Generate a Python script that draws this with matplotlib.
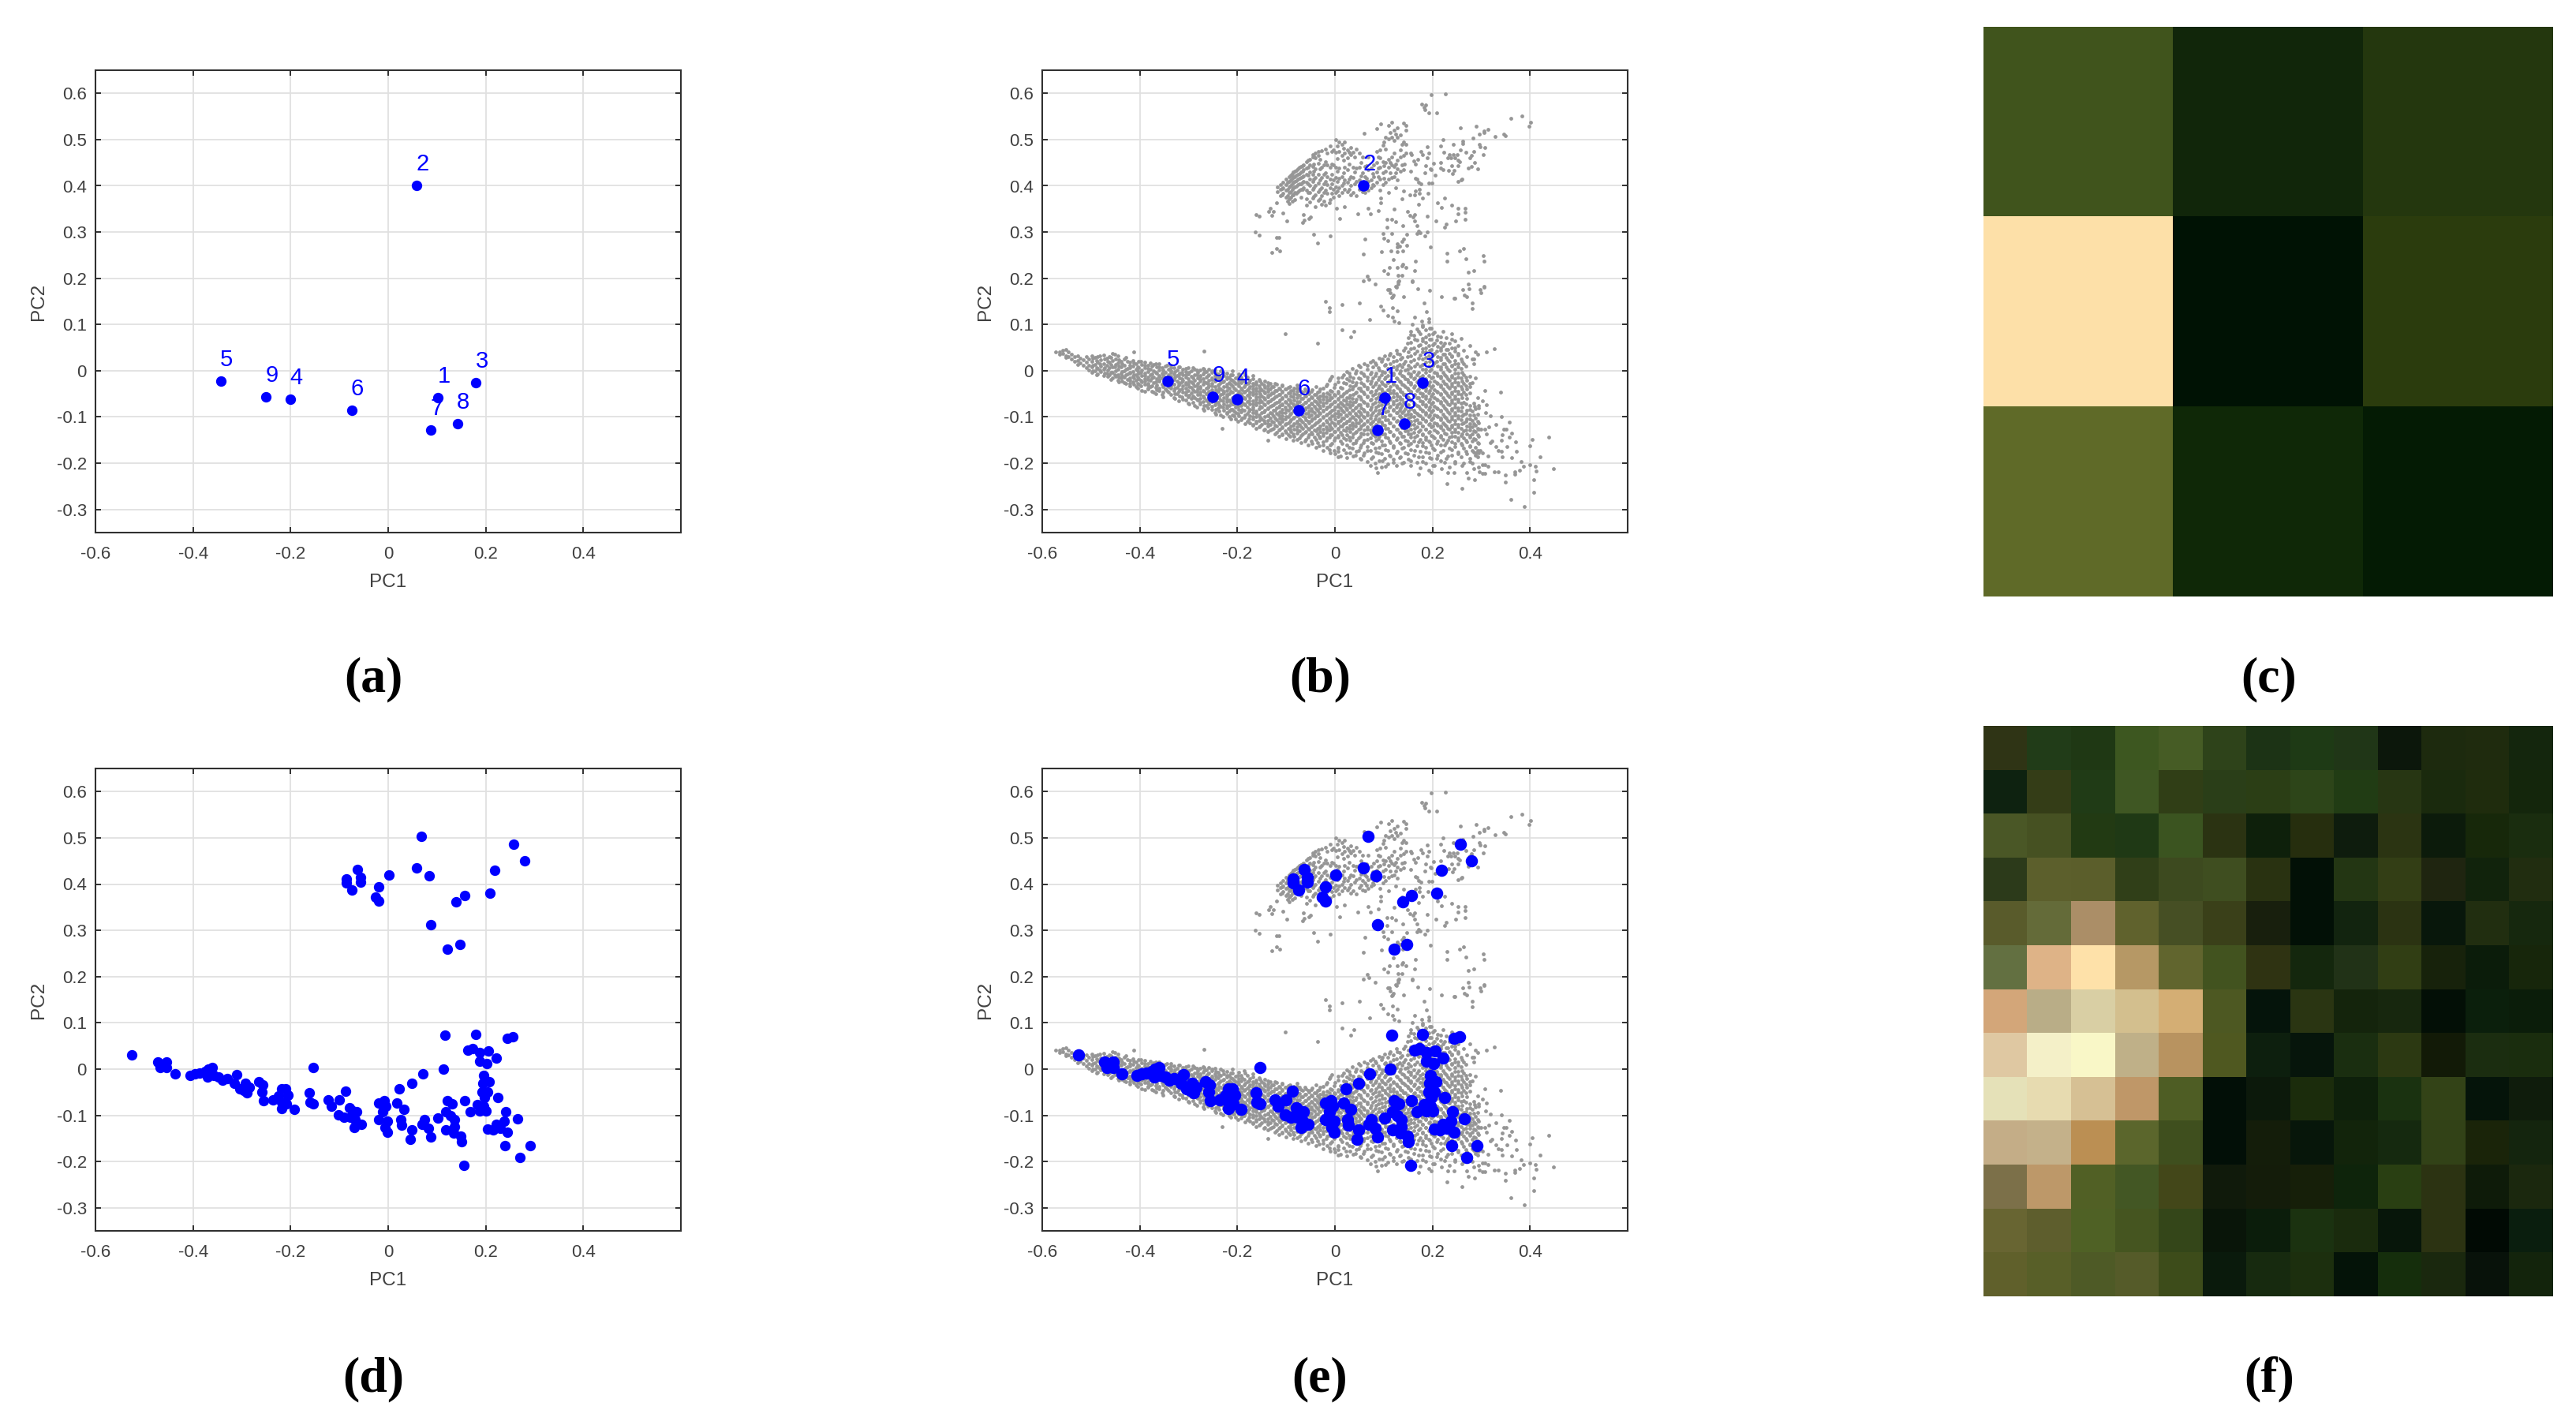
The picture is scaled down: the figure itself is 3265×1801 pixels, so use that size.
import matplotlib
matplotlib.use("Agg")
import matplotlib.pyplot as plt
from matplotlib.colors import to_rgb

W, H = 3266, 1801

# ---- labelled samples, panels (a)/(b)
LABELS = ["1", "2", "3", "4", "5", "6", "7", "8", "9"]
SAMPLE_X = [0.102, 0.058, 0.180, -0.200, -0.343, -0.075, 0.087, 0.142, -0.250]
SAMPLE_Y = [-0.058, 0.401, -0.025, -0.062, -0.022, -0.085, -0.128, -0.114, -0.056]

# ---- selected samples, panels (d)/(e)
SELECT_PTS = [(-0.526,0.031),(-0.473,0.016),(-0.467,0.004),(-0.454,0.016),(-0.454,0.003),(-0.437,-0.011),
(-0.406,-0.013),(-0.396,-0.011),(-0.387,-0.009),(-0.376,-0.006),(-0.369,-0.001),(-0.361,0.004),(-0.370,-0.017),
(-0.357,-0.014),(-0.348,-0.018),(-0.339,-0.024),(-0.330,-0.020),(-0.310,-0.012),(-0.315,-0.031),(-0.304,-0.042),
(-0.293,-0.031),(-0.285,-0.040),(-0.289,-0.052),(-0.296,-0.046),(-0.266,-0.028),(-0.257,-0.034),(-0.259,-0.050),
(-0.256,-0.068),(-0.236,-0.067),(-0.225,-0.059),(-0.219,-0.043),(-0.211,-0.043),(-0.206,-0.056),(-0.219,-0.071),
(-0.209,-0.076),(-0.219,-0.085),(-0.193,-0.087),(-0.154,0.004),(-0.161,-0.052),(-0.160,-0.071),(-0.153,-0.075),
(-0.123,-0.067),(-0.117,-0.080),(-0.100,-0.067),(-0.088,-0.048),(-0.102,-0.099),(-0.091,-0.105),(-0.080,-0.083),
(-0.072,-0.091),(-0.065,-0.093),(-0.077,-0.105),(-0.068,-0.109),(-0.070,-0.126),(-0.055,-0.120),(-0.019,-0.073),
(-0.008,-0.068),(-0.005,-0.081),(-0.012,-0.093),(-0.019,-0.110),(-0.001,-0.113),(-0.007,-0.127),(-0.001,-0.136),
(0.017,-0.073),(0.032,-0.087),(0.026,-0.110),(0.027,-0.122),(0.049,-0.131),(0.046,-0.152),(0.023,-0.042),
(0.049,-0.031),(0.071,-0.010),(0.113,0.000),(0.074,-0.109),(0.069,-0.120),(0.083,-0.128),(0.088,-0.147),
(0.102,-0.106),(0.122,-0.069),(0.131,-0.076),(0.118,-0.093),(0.127,-0.101),(0.136,-0.109),(0.118,-0.132),
(0.136,-0.124),(0.134,-0.139),(0.148,-0.145),(0.150,-0.157),(0.155,-0.208),(0.157,-0.068),(0.169,-0.093),
(0.182,-0.077),(0.187,-0.091),(0.196,-0.081),(0.201,-0.091),(0.198,-0.061),(0.192,-0.050),(0.203,-0.050),
(0.194,-0.031),(0.207,-0.028),(0.196,-0.014),(0.202,0.011),(0.187,0.017),(0.221,0.024),(0.206,0.039),
(0.187,0.035),(0.173,0.045),(0.163,0.041),(0.116,0.074),(0.179,0.075),(0.245,0.066),(0.256,0.070),
(0.225,-0.061),(0.241,-0.093),(0.238,-0.113),(0.266,-0.107),(0.203,-0.130),(0.215,-0.132),(0.222,-0.120),
(0.229,-0.128),(0.244,-0.136),(0.239,-0.165),(0.291,-0.165),(0.270,-0.191),(0.068,0.504),(0.257,0.486),
(0.280,0.450),(0.219,0.430),(0.058,0.435),(0.084,0.418),(0.001,0.420),(-0.063,0.431),(-0.057,0.415),
(-0.056,0.405),(-0.085,0.411),(-0.086,0.402),(-0.074,0.387),(-0.020,0.394),(-0.026,0.372),(-0.020,0.363),
(0.209,0.380),(0.157,0.375),(0.139,0.362),(0.088,0.312),(0.147,0.270),(0.122,0.259)]

# ---- background cloud, panels (b)/(e): isolated points (PC1, PC2)
CLOUD_SPARSE = [(-0.164,0.301),(-0.155,0.293),(-0.162,0.337),(-0.156,0.334),(-0.136,0.344),(-0.132,0.351),(-0.126,0.344),
(-0.129,0.336),(-0.107,0.341),(-0.119,0.364),(-0.098,0.324),(-0.120,0.289),(-0.115,0.289),(-0.130,0.256),(-0.119,0.265),
(-0.113,0.260),(-0.067,0.321),(-0.063,0.326),(-0.054,0.330),(-0.050,0.332),(-0.065,0.337),(-0.044,0.295),(-0.036,0.276),
(-0.009,0.292),(0.010,0.330),(0.003,0.352),(0.020,0.355),(-0.012,0.364),(-0.020,0.358),(0.047,0.339),(0.068,0.351),
(0.073,0.340),(0.061,0.284),(0.058,0.253),(0.059,0.194),(0.066,0.204),(0.070,0.197),(0.082,0.187),(0.060,0.514),
(0.085,0.523),(0.093,0.534),(0.198,0.597),(0.227,0.599),(0.178,0.577),(0.186,0.575),(0.183,0.570),(0.184,0.564),
(0.193,0.558),(0.209,0.558),(0.360,0.546),(0.384,0.551),(0.401,0.537),(0.398,0.528),(0.257,0.526),(0.290,0.528),
(0.314,0.522),(0.306,0.519),(0.306,0.515),(0.296,0.511),(0.283,0.504),(0.329,0.506),(0.346,0.511),(0.350,0.509),
(0.222,0.499),(0.262,0.497),(0.262,0.491),(0.217,0.486),(0.242,0.489),(0.296,0.490),(0.298,0.484),(0.307,0.483),
(0.257,0.478),(0.269,0.473),(0.284,0.474),(0.304,0.468),(0.223,0.473),(0.234,0.467),(0.243,0.468),(0.251,0.467),
(0.231,0.461),(0.238,0.461),(0.246,0.460),(0.252,0.455),(0.256,0.452),(0.279,0.466),(0.276,0.460),(0.286,0.450),
(0.274,0.439),(0.280,0.442),(0.292,0.436),(0.217,0.450),(0.217,0.439),(0.221,0.435),(0.233,0.433),(0.240,0.443),
(0.241,0.426),(0.245,0.434),(0.252,0.443),(0.252,0.409),(0.259,0.412),(0.260,0.415),(0.189,0.484),(0.176,0.475),
(0.180,0.468),(0.192,0.471),(0.189,0.460),(0.155,0.470),(0.157,0.467),(0.170,0.458),(0.161,0.453),(0.165,0.447),
(0.186,0.443),(0.202,0.448),(0.195,0.437),(0.198,0.435),(0.184,0.428),(0.205,0.423),(0.155,0.432),(0.142,0.447),
(0.141,0.435),(0.165,0.416),(0.169,0.414),(0.171,0.407),(0.176,0.404),(0.192,0.406),(0.199,0.406),(0.125,0.395),
(0.140,0.389),(0.165,0.389),(0.173,0.393),(0.154,0.381),(0.163,0.380),(0.173,0.384),(0.191,0.384),(0.180,0.374),
(0.138,0.372),(0.094,0.373),(0.094,0.363),(0.171,0.360),(0.122,0.350),(0.089,0.347),(0.210,0.364),(0.225,0.374),
(0.219,0.353),(0.239,0.358),(0.252,0.352),(0.267,0.351),(0.253,0.340),(0.267,0.342),(0.267,0.327),(0.248,0.324),
(0.207,0.324),(0.190,0.334),(0.149,0.344),(0.153,0.336),(0.163,0.338),(0.160,0.333),(0.163,0.324),(0.107,0.328),
(0.117,0.328),(0.125,0.322),(0.168,0.313),(0.107,0.310),(0.139,0.313),(0.228,0.317),(0.224,0.310),(0.172,0.302),
(0.175,0.299),(0.169,0.297),(0.184,0.291),(0.190,0.300),(0.099,0.296),(0.117,0.297),(0.147,0.295),(0.100,0.286),
(0.109,0.281),(0.140,0.285),(0.137,0.279),(0.127,0.274),(0.133,0.270),(0.127,0.267),(0.147,0.272),(0.195,0.267),
(0.096,0.258),(0.115,0.260),(0.127,0.258),(0.139,0.260),(0.229,0.254),(0.229,0.237),(0.255,0.260),(0.264,0.264),
(0.269,0.243),(0.304,0.249),(0.306,0.237),(0.273,0.213),(0.285,0.216),(0.119,0.240),(0.165,0.237),(0.101,0.217),
(0.112,0.223),(0.109,0.210),(0.127,0.223),(0.139,0.230),(0.138,0.226),(0.146,0.223),(0.164,0.217),(0.129,0.207),
(0.137,0.207),(0.129,0.193),(0.130,0.188),(0.158,0.192),(0.112,0.175),(0.126,0.180),(0.170,0.177),(0.194,0.174),
(0.119,0.164),(0.116,0.159),(0.141,0.160),(0.275,0.178),(0.306,0.180),(0.299,0.169),(0.270,0.160),(0.218,0.160),
(0.246,0.156),(-0.020,0.150),(-0.012,0.136),(-0.012,0.128),(0.014,0.143),(0.050,0.147),(0.014,0.089),(0.039,0.085),
(0.032,0.073),(-0.102,0.080),(-0.035,0.060),(0.094,0.139),(0.099,0.132),(0.118,0.137),(0.127,0.129),(0.108,0.120),
(0.118,0.116),(0.122,0.108),(0.131,0.104),(0.164,0.116),(0.182,0.146),(0.187,0.128),(0.159,0.101),(0.178,0.108),
(0.192,0.112),(0.244,0.157),(0.265,0.164),(0.281,0.146),(0.281,0.135),(0.273,0.187),(0.262,0.175),(0.298,0.175),
(0.305,0.183),(0.118,0.160),(0.113,0.168),(0.124,0.183),(0.108,0.176),(0.159,0.195),(0.131,0.195),(0.071,0.111),
(0.448,-0.211),(0.438,-0.144),(0.405,-0.148),(0.400,-0.163),(0.421,-0.186),(0.381,-0.196),(0.386,-0.207),(0.399,-0.204),
(0.410,-0.207),(0.412,-0.217),(0.407,-0.235),(0.408,-0.263),(0.388,-0.293),(0.360,-0.279),(0.350,-0.241),(0.350,-0.225),
(0.368,-0.218),(0.368,-0.224),(0.378,-0.215),(0.335,-0.218),(0.327,-0.218),(0.362,-0.188),(0.343,-0.187),(0.372,-0.174),
(0.370,-0.154),(0.353,-0.164),(0.342,-0.150),(0.343,-0.139),(0.362,-0.135),(0.358,-0.144),(0.346,-0.126),(0.351,-0.126),
(0.357,-0.111),(0.341,-0.099),(0.330,-0.117),(0.339,-0.047),(0.307,-0.043),(0.303,-0.065),(0.311,-0.074),(0.295,-0.075),
(0.287,-0.077),(0.309,-0.090),(0.319,-0.098),(0.300,-0.127),(0.308,-0.127),(0.316,-0.121),(0.311,-0.136),(0.319,-0.155),
(0.322,-0.152),(0.330,-0.164),(0.335,-0.172),(0.341,-0.175),(0.314,-0.184),(0.292,-0.172),(0.297,-0.172),(0.303,-0.178),
(0.289,-0.178),(0.303,-0.204),(0.308,-0.204),(0.314,-0.207),(0.296,-0.218),(0.303,-0.222),(0.307,-0.222),(0.273,-0.233),
(0.287,-0.236),(0.261,-0.254),(0.229,-0.244),(0.245,-0.221),(0.232,-0.221),(0.218,-0.212),(0.197,-0.221),(0.171,-0.224),
(0.087,-0.221),(0.326,0.047),(0.311,0.040),(0.292,0.036),(0.284,0.025),(-0.231,-0.124),(-0.268,0.042),(-0.413,0.040)]

# ---- background cloud: crowded parts read column by column (PC1 in thousandths: PC2 values in thousandths)
CLOUD_COLUMNS = [
(-572,[40]),(-565,[41,35]),(-558,[44,37]),(-552,[46,33,28]),(-546,[40,31]),(-540,[36,26]),(-534,[30,21]),
(-528,[32,22,14]),(-522,[27,17]),(-516,[12,24]),(-510,[30,19,6]),(-504,[25,12,2]),(-498,[33,20,8,-4]),(-492,[28,14,0]),
(-486,[31,18,5,-7]),(-480,[24,10,-2]),(-474,[34,16,3,-10]),(-468,[27,12,-5]),(-462,[30,19,6,-8]),(-456,[38,22,9,-3,-15]),
(-450,[26,13,-1,-12]),(-444,[32,17,4,-9,-20]),(-438,[21,8,-6,-16]),(-432,[26,12,0,-13,-25]),(-426,[20,5,-7,-19]),
(-420,[18,7,-4,-16,-28]),(-414,[22,10,-2,-12,-24]),(-408,[15,3,-9,-21,-34]),(-402,[20,6,-5,-17,-30]),
(-396,[14,1,-11,-24,-42]),(-390,[19,7,-6,-18,-29]),(-384,[12,-2,-14,-27,-37]),(-378,[17,4,-9,-21,-35]),
(-372,[13,-1,-13,-26,-46]),(-366,[8,-6,-18,-31,-41]),(-360,[15,2,-10,-23,-37]),(-354,[6,-5,-16,-29,-52]),
(-348,[10,-3,-14,-26,-40]),(-342,[4,-9,-21,-34,-47]),(-336,[12,-1,-12,-25,-38]),(-330,[6,-7,-19,-30,-43,-58]),
(-324,[1,-11,-23,-36,-49]),(-318,[8,-5,-16,-28,-41,-54]),(-312,[3,-9,-21,-33,-46,-62]),(-306,[-2,-13,-26,-38,-51]),
(-300,[6,-7,-18,-30,-43,-56,-70]),(-294,[-1,-12,-24,-36,-48,-60]),(-288,[3,-9,-20,-33,-45,-58,-76]),
(-282,[-4,-15,-27,-39,-51,-64]),(-276,[1,-11,-23,-35,-47,-60,-72]),(-270,[5,-7,-18,-30,-42,-55,-67,-82]),
(-264,[-2,-14,-26,-38,-50,-63,-76]),(-258,[4,-9,-21,-33,-45,-58,-71]),(-252,[-3,-16,-28,-41,-53,-66,-84]),
(-246,[2,-11,-23,-35,-48,-60,-74,-90]),(-240,[-7,-19,-31,-44,-56,-69,-81]),(-234,[-1,-14,-26,-39,-51,-64,-77,-96]),
(-228,[-10,-22,-34,-47,-59,-72,-85]),(-222,[-5,-18,-30,-42,-55,-67,-80,-93]),(-216,[-13,-25,-38,-50,-63,-75,-88,-100]),
(-210,[0,-9,-21,-33,-46,-58,-71,-84,-96]),(-204,[-16,-28,-41,-53,-66,-79,-91,-104]),(-198,[-7,-20,-32,-45,-57,-70,-83,-98]),
(-192,[-13,-26,-38,-50,-63,-76,-89,-106]),(-186,[-4,-22,-34,-47,-59,-72,-85,-101]),(-180,[-14,-28,-41,-53,-66,-79,-92,-110]),
(-174,[-20,-34,-46,-59,-71,-84,-97,-112]),(-168,[-11,-27,-40,-52,-65,-78,-91,-104,-118]),(-162,[-24,-37,-49,-62,-74,-87,-100,-113]),
(-156,[-19,-32,-44,-57,-69,-82,-95,-108,-122]),(-150,[-28,-41,-54,-66,-79,-91,-104,-117]),
(-144,[-23,-36,-48,-61,-73,-86,-99,-112,-126]),(-138,[-32,-44,-57,-69,-82,-95,-108,-120,-150]),
(-132,[-27,-40,-52,-65,-77,-90,-103,-116,-129]),(-126,[-35,-48,-60,-73,-85,-98,-111,-124]),
(-120,[-29,-43,-55,-68,-80,-93,-106,-119,-133]),(-114,[-39,-51,-64,-76,-89,-102,-115,-127]),
(-108,[-33,-46,-58,-71,-84,-97,-110,-123,-137]),(-102,[-40,-53,-66,-78,-91,-104,-117,-130]),
(-96,[-36,-48,-61,-73,-86,-99,-112,-125,-139]),(-90,[-43,-55,-68,-81,-93,-106,-119,-132]),
(-84,[-38,-50,-63,-76,-88,-101,-114,-127,-141]),(-78,[-31,-45,-58,-71,-83,-96,-109,-122,-135]),
(-72,[-40,-53,-66,-78,-91,-104,-117,-130,-145]),(-66,[-47,-60,-73,-85,-98,-111,-124,-137]),
(-60,[-42,-55,-68,-81,-93,-106,-119,-132,-148]),(-54,[-49,-62,-75,-88,-100,-113,-126,-139]),
(-48,[-44,-57,-70,-82,-95,-108,-121,-134,-152]),(-42,[-52,-65,-77,-90,-103,-116,-129,-143]),
(-36,[-47,-59,-72,-85,-98,-111,-124,-137,-155]),(-30,[-40,-54,-67,-80,-93,-106,-119,-132,-146]),
(-24,[-49,-62,-75,-88,-101,-114,-127,-140,-160]),(-18,[-32,-56,-69,-82,-95,-108,-121,-134,-150]),
(-12,[-21,-51,-64,-77,-90,-103,-116,-129,-143,-170]),(-6,[-12,-45,-59,-72,-85,-98,-111,-124,-138,-158]),
(0,[-30,-53,-66,-79,-92,-105,-118,-131,-146,-180]),(6,[-16,-48,-61,-74,-87,-100,-113,-126,-140,-165,-175]),
(12,[-36,-55,-68,-81,-94,-107,-120,-133,-152,-185]),(18,[-8,-25,-50,-63,-76,-89,-102,-115,-128,-145,-170]),
(24,[-2,-18,-44,-58,-71,-84,-97,-110,-123,-138,-160,-188]),(30,[-12,-33,-53,-66,-79,-92,-105,-118,-131,-150,-178]),
(36,[5,-24,-40,-60,-73,-86,-99,-112,-125,-143,-168]),(42,[-6,-31,-48,-67,-80,-93,-106,-119,-133,-155,-182]),
(48,[12,-15,-37,-55,-74,-87,-100,-113,-126,-146,-172]),(54,[-3,-26,-43,-62,-81,-94,-107,-120,-135,-160,-192]),
(60,[15,-10,-33,-50,-69,-88,-101,-114,-128,-150,-178]),(66,[4,-21,-39,-57,-76,-95,-108,-121,-136,-164,-196]),
(72,[18,-7,-28,-46,-64,-83,-102,-115,-129,-145,-172,-205]),(78,[22,8,-16,-35,-53,-71,-90,-109,-122,-138,-158,-186]),
(84,[14,-5,-25,-42,-60,-78,-97,-116,-131,-150,-176,-210]),(90,[27,2,-14,-32,-49,-67,-85,-104,-123,-142,-165,-195]),
(96,[20,-8,-24,-39,-56,-74,-92,-111,-130,-152,-180,-208]),(102,[32,12,-4,-18,-31,-46,-63,-81,-99,-118,-137,-160,-190]),
(108,[25,5,-11,-26,-41,-54,-70,-88,-106,-125,-146,-172,-202]),(114,[38,16,-2,-20,-35,-48,-62,-77,-95,-113,-132,-155,-185]),
(120,[30,9,-9,-27,-43,-57,-71,-84,-102,-120,-140,-165,-198]),(126,[44,22,3,-15,-33,-50,-64,-78,-91,-109,-127,-148,-178,-205]),
(132,[35,14,-5,-22,-40,-56,-70,-85,-98,-116,-134,-156,-188]),(138,[28,8,-11,-29,-46,-62,-76,-90,-105,-123,-142,-168,-200]),
(144,[50,20,1,-17,-35,-52,-68,-82,-96,-112,-130,-150,-178]),(150,[72,40,12,-6,-24,-41,-58,-74,-88,-103,-119,-137,-160,-192]),
(156,[85,62,32,6,-12,-30,-47,-64,-80,-94,-109,-126,-144,-170,-205]),(162,[76,50,24,-2,-18,-36,-53,-70,-86,-100,-116,-133,-152,-182]),
(168,[90,66,42,16,-8,-24,-42,-59,-76,-92,-106,-122,-140,-162,-198]),(174,[80,56,34,10,-14,-30,-48,-65,-82,-98,-112,-129,-148,-175,-210]),
(180,[95,70,48,26,3,-20,-36,-54,-71,-88,-104,-120,-136,-156,-186]),(186,[88,62,40,18,-4,-26,-42,-60,-77,-94,-110,-127,-144,-166,-200]),
(192,[105,78,54,32,10,-10,-31,-48,-66,-83,-100,-116,-134,-152,-178,-215]),(198,[92,68,46,24,4,-16,-36,-54,-72,-89,-106,-122,-140,-160,-190]),
(204,[84,60,38,17,-4,-22,-41,-59,-77,-95,-112,-128,-146,-170,-205]),(210,[75,52,30,10,-10,-28,-46,-64,-82,-100,-118,-134,-152,-182]),
(216,[62,44,23,3,-16,-34,-52,-70,-88,-106,-123,-140,-160,-195]),(222,[85,54,36,16,-4,-22,-40,-58,-76,-94,-112,-128,-148,-172]),
(228,[72,46,28,8,-12,-30,-48,-66,-84,-102,-120,-136,-156,-190]),(234,[60,38,20,0,-20,-38,-56,-74,-92,-110,-126,-144,-168,-208]),
(240,[80,50,30,12,-10,-28,-46,-64,-82,-100,-118,-134,-154,-182]),(246,[65,42,22,4,-18,-36,-54,-72,-90,-108,-126,-142,-164,-196]),
(252,[55,34,15,-6,-26,-44,-62,-80,-98,-116,-134,-150,-176]),(258,[70,25,5,-16,-34,-52,-70,-88,-106,-124,-140,-158,-186]),
(264,[45,16,-8,-28,-46,-68,-94,-112,-130,-146,-168,-200]),(270,[30,-20,-40,-60,-85,-104,-120,-136,-154,-180,-220]),
(276,[55,-12,-34,-75,-96,-114,-128,-144,-162,-190]),(282,[25,-25,-88,-108,-122,-136,-152,-172,-200]),
(288,[40,-15,-82,-102,-118,-132,-148,-165,-182]),(294,[-80,-112,-126,-142,-158,-178,-208]),
# upper lobe
(-118,[398,388]),(-112,[403,392,378]),(-106,[408,396,384]),(-100,[414,402,390,376]),(-94,[420,410,398,386,372,362]),
(-88,[427,416,405,393,380,366]),(-82,[432,420,410,398,385,370]),(-76,[437,425,414,402,388]),(-70,[441,430,418,405,392,376]),
(-64,[446,435,422,410,396]),(-58,[452,438,425,408,390,372,358]),(-52,[458,445,430,415,400,385,365]),(-46,[467,462,442,425,410,392,374]),
(-40,[470,460,436,418,400,380,355]),(-34,[474,465,448,425,406,388,368]),(-28,[476,440,418,396,378,360]),(-22,[445,424,404,386,366]),
(-16,[470,446,420,402,384]),(-10,[486,440,415,395,370]),(-4,[478,445,412,392,375]),(2,[500,472,440,418,398,385]),
(8,[494,475,438,416,396,378]),(14,[490,465,420,400,385]),(20,[494,470,440,412,392]),(26,[478,460,435,408,388]),(32,[482,468,420,400,380]),
(38,[472,440,418,385]),(44,[480,438,410,378]),(50,[470,440,412,392]),(56,[462,428,408,388]),(62,[442,420,402,385]),(68,[462,435,410,390]),
(74,[438,412,395]),(80,[445,420,400]),(86,[474,450,430,408]),(92,[478,460,440,415,390]),(98,[488,452,428,402]),(104,[505,480,450,432,408]),
(110,[530,502,458,440,415,385]),(116,[537,505,462,445,418]),(122,[520,498,470,442,420]),(128,[525,505,456,436,412]),(134,[510,478,462,432]),
(140,[535,495,465]),(146,[530,520,490,470]),
]

# ---- second reading of the crowded parts, between the first columns
CLOUD_COLUMNS_B = [
(-497,[27,11,-1]),(-489,[22,6,-9]),(-482,[33,15,1]),(-473,[25,7,-6]),(-466,[20,2,-12]),(-459,[29,13,-4,-19]),(-451,[35,8,-8]),
(-443,[24,10,-14,-24]),(-436,[16,-2,-11,-23]),(-428,[28,3,-9,-27]),(-421,[11,-6,-21,-33]),(-413,[17,-8,-15,-29]),(-405,[8,0,-13,-27,-38]),
(-398,[21,-4,-20,-33]),(-390,[12,-10,-23,-44]),(-383,[5,-19,-31,-40]),(-375,[10,-7,-16,-32,-45]),(-367,[16,-3,-24,-36,-50]),(-360,[8,-12,-19,-43]),
(-352,[1,-9,-34,-46,-56]),(-344,[12,-17,-29,-42]),(-337,[6,-4,-22,-33,-52]),(-329,[-2,-14,-37,-49,-60]),(-321,[9,-8,-26,-31,-45,-65]),
(-314,[-3,-18,-24,-39,-57]),(-306,[5,-9,-30,-47,-63]),(-299,[-4,-22,-35,-53,-72]),(-291,[7,-15,-28,-41,-55,-68]),(-283,[1,-8,-33,-44,-62,-79]),
(-276,[-12,-19,-38,-52,-69]),(-268,[3,-4,-24,-45,-58,-75,-86]),(-260,[-10,-28,-36,-50,-66,-80]),(-253,[0,-19,-33,-47,-61,-77]),
(-245,[-6,-15,-41,-52,-68,-84,-94]),(-237,[-12,-29,-37,-58,-73,-88]),(-229,[-3,-24,-43,-49,-65,-79,-99]),(-222,[-14,-35,-52,-61,-76,-90]),
(-214,[-8,-19,-30,-45,-68,-83,-104]),(-207,[-24,-37,-57,-72,-87,-98]),(-199,[-13,-28,-49,-63,-77,-93,-110]),(-191,[-19,-41,-55,-69,-84,-102]),
(-184,[-9,-31,-44,-60,-74,-96,-114]),(-176,[-25,-38,-52,-65,-88,-105]),(-168,[-17,-33,-47,-71,-83,-99,-116]),(-161,[-29,-42,-56,-68,-92,-109,-124]),
(-153,[-22,-37,-50,-63,-77,-101,-119]),(-146,[-31,-45,-59,-72,-89,-107,-128]),(-138,[-26,-39,-53,-67,-81,-98,-114,-131]),(-130,[-34,-48,-62,-75,-93,-109,-126]),
(-123,[-28,-42,-57,-70,-86,-102,-118,-136]),(-115,[-37,-51,-66,-79,-95,-111,-129,-142]),(-108,[-31,-44,-60,-73,-90,-105,-121,-139]),
(-100,[-39,-54,-69,-83,-100,-114,-133,-147]),(-92,[-34,-48,-63,-78,-94,-109,-127,-142]),(-85,[-42,-57,-71,-87,-103,-118,-136,-150]),
(-77,[-37,-52,-66,-81,-97,-113,-129,-148]),(-70,[-45,-60,-75,-90,-107,-122,-140,-156]),(-62,[-39,-54,-69,-84,-101,-116,-133,-152]),
(-55,[-47,-63,-78,-93,-109,-125,-144,-160]),(-47,[-41,-58,-72,-87,-104,-119,-137,-157]),(-39,[-35,-52,-67,-82,-97,-113,-130,-148,-166]),
(-32,[-45,-61,-76,-91,-108,-124,-141,-162]),(-24,[-38,-55,-70,-85,-100,-117,-135,-153,-173]),(-16,[-29,-48,-64,-79,-94,-111,-127,-146,-165]),
(-9,[-18,-42,-58,-73,-89,-104,-121,-139,-160,-178]),(-1,[-36,-51,-67,-83,-98,-115,-132,-151,-172]),(7,[-24,-45,-60,-77,-92,-109,-125,-143,-168,-186]),
(14,[-13,-38,-54,-71,-86,-103,-119,-138,-157]),(22,[-28,-47,-65,-80,-96,-112,-130,-149,-178]),(29,[-5,-21,-41,-59,-74,-90,-107,-124,-144,-166]),
(37,[-15,-34,-52,-68,-85,-101,-118,-137,-158,-184]),(44,[0,-26,-46,-62,-79,-95,-112,-131,-150,-175]),(52,[8,-18,-38,-56,-73,-90,-106,-124,-141,-166,-190]),
(59,[-7,-29,-47,-66,-84,-99,-117,-136,-156,-182]),(67,[11,-14,-36,-54,-72,-91,-109,-127,-148,-172]),(74,[-3,-23,-44,-61,-79,-96,-113,-133,-155,-190]),
(82,[17,-11,-30,-50,-68,-86,-104,-121,-142,-168,-200]),(89,[6,-19,-37,-57,-75,-93,-110,-128,-147,-178]),(97,[25,-2,-27,-45,-64,-82,-99,-117,-136,-160,-195]),
(104,[14,-13,-33,-52,-71,-89,-106,-124,-143,-170,-206]),(112,[34,4,-22,-41,-59,-78,-96,-113,-131,-152,-182]),(119,[21,-6,-29,-48,-66,-85,-103,-120,-139,-162,-192]),
(127,[38,10,-17,-36,-55,-73,-91,-108,-126,-146,-174]),(134,[26,-1,-24,-44,-62,-81,-99,-116,-135,-158,-186]),(141,[45,15,-12,-31,-51,-69,-88,-105,-123,-142,-166,-198]),
(149,[60,31,3,-19,-38,-57,-76,-94,-111,-130,-152,-180]),(156,[78,48,20,-7,-26,-45,-63,-82,-99,-117,-137,-158,-194]),(164,[68,38,10,-15,-33,-52,-71,-89,-107,-124,-144,-172]),
(171,[86,54,27,-3,-21,-40,-58,-77,-95,-113,-131,-154,-186]),(179,[98,64,40,14,-11,-30,-49,-67,-85,-103,-120,-138,-162,-196]),(186,[74,50,28,3,-18,-37,-55,-73,-91,-108,-126,-148,-176]),
(194,[92,68,44,21,-1,-24,-43,-61,-79,-96,-114,-131,-154,-188]),(201,[80,56,34,11,-13,-32,-50,-68,-86,-103,-120,-142,-168,-205]),(209,[66,42,20,-6,-25,-44,-62,-80,-98,-115,-132,-158,-190]),
(216,[74,50,28,9,-12,-31,-49,-67,-85,-102,-120,-144,-176]),(224,[60,36,15,-8,-27,-45,-63,-81,-99,-117,-135,-160,-198]),(231,[46,24,3,-17,-35,-53,-71,-89,-107,-125,-150,-184]),
(239,[68,32,10,-14,-32,-50,-68,-86,-104,-122,-142,-170]),(246,[50,16,-5,-24,-42,-60,-78,-96,-114,-132,-158,-200]),(253,[38,8,-14,-31,-49,-67,-85,-103,-121,-146,-180]),
(261,[20,-3,-22,-40,-58,-78,-97,-115,-136,-160,-205]),(268,[10,-13,-32,-52,-72,-92,-110,-128,-150,-175]),(276,[-28,-48,-84,-104,-122,-140,-164,-196]),
(284,[15,-70,-96,-114,-130,-147,-176,-212]),(293,[-58,-94,-110,-124,-138,-156,-186]),
# upper lobe
(-109,[394,381]),(-97,[407,393,379,366]),(-91,[423,412,401,388,375]),(-85,[430,419,407,396,381]),(-79,[434,423,411,399,383]),(-73,[440,427,416,404,390]),
(-67,[444,432,420,407,393]),(-55,[455,440,423,404,386]),(-43,[464,447,431,414,396,377]),(-31,[458,436,412,392,372]),(-19,[480,452,428,409,390]),(-7,[474,447,424,404,384]),
(5,[486,459,431,409,389]),(17,[481,455,428,406]),(29,[472,447,414,393]),(41,[463,430,404]),(53,[451,422,397]),(65,[444,416,398]),(77,[426,403]),(89,[463,439,419]),
(101,[494,444,417]),(113,[516,451,428]),(125,[512,447,428]),(137,[490,446]),
]

# ---- image patches
PATCH_C = [["#40541c", "#11260a", "#24370e"],
           ["#fde0a8", "#001204", "#2b3c0d"],
           ["#5f6a28", "#0f2807", "#041b04"]]
PATCH_F = [
["#2f3415","#213c18","#1f3814","#3d5720","#465c25","#2e431a","#1c3315","#1e3a15","#203617","#0c170b","#1d2a0e","#1f2b0e","#14260d"],
["#0e2210","#343d17","#203b16","#3f5723","#303e16","#2a3e18","#2b3e15","#2d4519","#213c14","#273613","#1a2a0d","#1f2c0d","#14260c"],
["#4a5726","#465122","#223a13","#1f3915","#3b5420","#2b3312","#0e200b","#262e0e","#0e1c0d","#2b3412","#0c1b0b","#17280a","#1a2d0f"],
["#2c3a1a","#5c5f2c","#5b5e2b","#303f18","#3d4a1f","#3f4e20","#293211","#021006","#233613","#333e15","#1f2510","#11230c","#212d10"],
["#595b2b","#646b39","#ab8e67","#60622d","#464f24","#3a4019","#181f0d","#021006","#12240f","#2b3312","#08170b","#212e10","#16280e"],
["#637041","#deb387","#fee1a9","#b69865","#61652e","#42531f","#2f3312","#14270d","#213217","#313e14","#17220b","#0b1c0a","#17260b"],
["#d3a679","#b9ad87","#d9cfa4","#d3bf8e","#d4ae74","#4d5822","#05140b","#2a3512","#14240c","#17270e","#030f06","#0b1f0c","#0b1d0a"],
["#dfc8a2","#f4f0c8","#f9f7c7","#bfb088","#b89360","#4f5820","#0d1f0e","#06150b","#1a2e10","#2c3912","#121a07","#1b2d10","#1a2d0e"],
["#e5e1b8","#e7dbb0","#d6c094","#bf9768","#4e5d24","#020f07","#0c190b","#1b2c0c","#0e200b","#1a3210","#334317","#05140a","#0f1c0c"],
["#c4ad87","#c4b18a","#bb8f53","#5b662c","#3f4f1e","#020f07","#141d0a","#07160a","#12240b","#15290f","#324217","#1a2409","#14250e"],
["#7c7049","#bd9869","#516025","#435724","#434719","#101a0b","#141c0a","#161f09","#0e240b","#293f12","#2c3312","#0e1b09","#1b280e"],
["#686532","#5e5e2d","#4f6125","#455520","#344619","#091509","#0b1d0b","#1b3210","#1a2b0d","#07160a","#2c3312","#010a04","#0a1e0e"],
["#60602b","#585f28","#4e5a26","#555b29","#3d4c1a","#0a1a0c","#172a0f","#1c2f0e","#041308","#152e0c","#1a280e","#08120a","#13240c"],
]

X_TICKS = [-0.6, -0.4, -0.2, 0, 0.2, 0.4]
X_TICKLABELS = ["-0.6", "-0.4", "-0.2", "0", "0.2", "0.4"]
Y_TICKS = [-0.3, -0.2, -0.1, 0, 0.1, 0.2, 0.3, 0.4, 0.5, 0.6]
Y_TICKLABELS = ["-0.3", "-0.2", "-0.1", "0", "0.1", "0.2", "0.3", "0.4", "0.5", "0.6"]

BLUE = "#0000ff"
GRAY = "#969696"
INK = "#404040"
SANS = "Liberation Sans"

cloud_x = [p[0] for p in CLOUD_SPARSE]
cloud_y = [p[1] for p in CLOUD_SPARSE]
for cx, ys in CLOUD_COLUMNS + CLOUD_COLUMNS_B:
    for cy in ys:
        cloud_x.append(cx / 1000)
        cloud_y.append(cy / 1000)
select_x = [p[0] for p in SELECT_PTS]
select_y = [p[1] for p in SELECT_PTS]

fig = plt.figure(figsize=(W / 100, H / 100), dpi=100, facecolor="white")


def box(l, t, r, b):
    return fig.add_axes([l / W, 1 - b / H, (r - l) / W, (b - t) / H])


def pca_axes(l, t, r, b):
    ax = box(l, t, r, b)
    ax.set_xlim(-0.6, 0.6)
    ax.set_ylim(-0.35, 0.65)
    ax.set_xticks(X_TICKS, X_TICKLABELS, fontfamily=SANS)
    ax.set_yticks(Y_TICKS, Y_TICKLABELS, fontfamily=SANS)
    ax.grid(True, color="#e0e0e0", lw=1.3)
    ax.set_axisbelow(True)
    ax.tick_params(axis="x", direction="in", top=True, length=5, width=1.4, color="#303030",
                   labelsize=16, labelcolor=INK, pad=12)
    ax.tick_params(axis="y", direction="in", right=True, length=5, width=1.4, color="#303030",
                   labelsize=16, labelcolor=INK, pad=8)
    for s in ax.spines.values():
        s.set_linewidth(1.5)
        s.set_color("#303030")
    ax.set_xlabel("PC1", fontfamily=SANS, fontsize=17.5, color=INK, va="center")
    ax.set_ylabel("PC2", fontfamily=SANS, fontsize=17.5, color=INK, va="center")
    ax.xaxis.set_label_coords(0.5, -0.108)
    ax.yaxis.set_label_coords(-0.097, 0.5)
    return ax


def cloud(ax):
    ax.scatter(cloud_x, cloud_y, s=12, c=GRAY, linewidths=0, zorder=2)


def labels(ax):
    for lab, x, y in zip(LABELS, SAMPLE_X, SAMPLE_Y):
        ax.text(x + 0.012, y + 0.046, lab, color=BLUE, fontsize=21, fontfamily=SANS,
                ha="center", va="center", zorder=4)


ax_a = pca_axes(121, 89, 863, 675)
ax_a.scatter(SAMPLE_X, SAMPLE_Y, s=92, c=BLUE, linewidths=0, zorder=3)
labels(ax_a)

ax_b = pca_axes(1321, 89, 2063, 675)
cloud(ax_b)
ax_b.scatter(SAMPLE_X, SAMPLE_Y, s=110, c=BLUE, linewidths=0, zorder=3)
labels(ax_b)

ax_d = pca_axes(121, 974, 863, 1560)
ax_d.scatter(select_x, select_y, s=92, c=BLUE, linewidths=0, zorder=3)

ax_e = pca_axes(1321, 974, 2063, 1560)
cloud(ax_e)
ax_e.scatter(select_x, select_y, s=125, c=BLUE, linewidths=0, zorder=3)

for patch, (l, t, r, b) in ((PATCH_C, (2514, 34, 3236, 756)), (PATCH_F, (2514, 920, 3236, 1643))):
    ax = box(l, t, r, b)
    rgb = [[to_rgb(c) for c in row] for row in patch]
    ax.imshow(rgb, interpolation="nearest", aspect="auto")
    ax.axis("off")

for cap, cx, cy in (("(a)", 473, 861), ("(b)", 1673, 861), ("(c)", 2876, 861),
                    ("(d)", 473, 1748), ("(e)", 1673, 1748), ("(f)", 2876, 1748)):
    fig.text(cx / W, 1 - cy / H, cap, fontfamily="Liberation Serif", fontweight="bold", fontsize=46,
             ha="center", va="center", color="black")

fig.savefig("out.png", dpi=100, facecolor="white")
